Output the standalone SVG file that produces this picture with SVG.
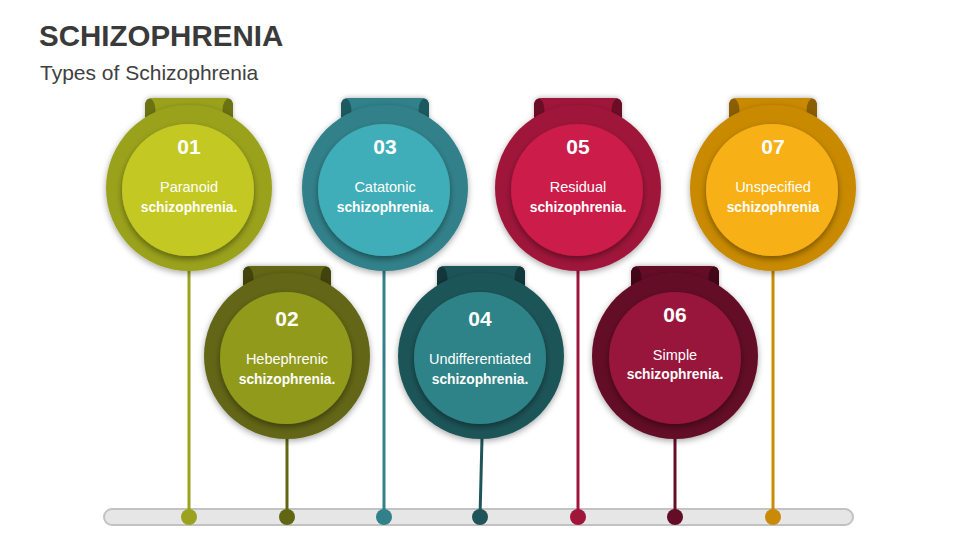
<svg xmlns="http://www.w3.org/2000/svg" width="960" height="540" viewBox="0 0 960 540">
  <defs>
    <filter id="sh" x="-20%" y="-20%" width="140%" height="140%">
      <feDropShadow dx="0" dy="2" stdDeviation="3" flood-color="#000" flood-opacity="0.35"/>
    </filter>
    <filter id="shIn" x="-20%" y="-20%" width="140%" height="140%">
      <feDropShadow dx="0" dy="3" stdDeviation="3" flood-color="#000" flood-opacity="0.4"/>
    </filter>
    <filter id="shTab" x="-20%" y="-40%" width="140%" height="180%">
      <feDropShadow dx="0" dy="-1" stdDeviation="2" flood-color="#000" flood-opacity="0.25"/>
    </filter>
  </defs>
  <style>
    .title { font-family: "Liberation Sans", Arial, sans-serif; font-weight: bold; font-size: 29.5px; fill: #3a3a3a; }
    .sub { font-family: "Liberation Sans", Arial, sans-serif; font-size: 21px; fill: #404040; }
    .num { font-family: "Liberation Sans", Arial, sans-serif; font-weight: bold; font-size: 21px; fill: #ffffff; text-anchor: middle; }
    .t1 { font-family: "Liberation Sans", Arial, sans-serif; font-size: 14.5px; fill: #ffffff; text-anchor: middle; }
    .t2 { font-family: "Liberation Sans", Arial, sans-serif; font-weight: bold; font-size: 13.8px; fill: #ffffff; text-anchor: middle; }
    .conn line { stroke-width: 3; }
    .c1 { fill: #9aa21e; } .s1 { stroke: #9aa21e; } .i1 { fill: #c3c923; } .k1 { fill: #6b7212; }
    .c2 { fill: #626614; } .s2 { stroke: #626614; } .i2 { fill: #929a1b; } .k2 { fill: #41440b; }
    .c3 { fill: #30818a; } .s3 { stroke: #30818a; } .i3 { fill: #40aeb8; } .k3 { fill: #1d5a60; }
    .c4 { fill: #1f5559; } .s4 { stroke: #1f5559; } .i4 { fill: #2f8388; } .k4 { fill: #123639; }
    .c5 { fill: #a0153a; } .s5 { stroke: #a0153a; } .i5 { fill: #cc1a4a; } .k5 { fill: #6c0d27; }
    .c6 { fill: #640d27; } .s6 { stroke: #640d27; } .i6 { fill: #98153b; } .k6 { fill: #420718; }
    .c7 { fill: #c98a05; } .s7 { stroke: #c98a05; } .i7 { fill: #f7b019; } .k7 { fill: #8a5e03; }
  </style>

  <text class="title" x="39" y="46">SCHIZOPHRENIA</text>
  <text class="sub" x="40" y="80">Types of Schizophrenia</text>

  <!-- timeline bar -->
  <rect x="104" y="509" width="749" height="16" rx="8" fill="#e6e6e6" stroke="#c2c2c2" stroke-width="2"/>

  <!-- connectors -->
  <g id="connectors" class="conn">
    <line class="s1" x1="189" y1="270" x2="189" y2="517"/>
    <line class="s2" x1="287" y1="438" x2="287" y2="517"/>
    <line class="s3" x1="384" y1="270" x2="384" y2="517"/>
    <line class="s4" x1="482" y1="438" x2="480" y2="517"/>
    <line class="s5" x1="578" y1="270" x2="578" y2="517"/>
    <line class="s6" x1="675" y1="438" x2="675" y2="517"/>
    <line class="s7" x1="773" y1="270" x2="773" y2="517"/>
    <circle class="c1" cx="189" cy="517" r="8"/>
    <circle class="c2" cx="287" cy="517" r="8"/>
    <circle class="c3" cx="384" cy="517" r="8"/>
    <circle class="c4" cx="480" cy="517" r="8"/>
    <circle class="c5" cx="578" cy="517" r="8"/>
    <circle class="c6" cx="675" cy="517" r="8"/>
    <circle class="c7" cx="773" cy="517" r="8"/>
  </g>

  <!-- node 01 -->
  <g id="node-01" transform="translate(189,188)">
    <path class="c1" filter="url(#shTab)" d="M-44,-60 L-44,-82 Q-44,-90 -36,-90 L36,-90 Q44,-90 44,-82 L44,-60 Z"/>
    <path class="k1" d="M-44,-71 L-44,-82 Q-44,-90 -38,-89.5 Q-32,-84 -34,-71 Z"/>
    <path class="k1" d="M44,-71 L44,-82 Q44,-90 38,-89.5 Q32,-84 34,-71 Z"/>
    <circle class="c1" r="83" filter="url(#sh)"/>
    <circle class="i1" cx="-1" cy="2" r="66" filter="url(#shIn)"/>
    <text class="num" x="0" y="-34">01</text>
    <text class="t1" x="0" y="4">Paranoid</text>
    <text class="t2" x="0" y="24">schizophrenia.</text>
  </g>

  <!-- node 03 -->
  <g id="node-03" transform="translate(385,188)">
    <path class="c3" filter="url(#shTab)" d="M-44,-60 L-44,-82 Q-44,-90 -36,-90 L36,-90 Q44,-90 44,-82 L44,-60 Z"/>
    <path class="k3" d="M-44,-71 L-44,-82 Q-44,-90 -38,-89.5 Q-32,-84 -34,-71 Z"/>
    <path class="k3" d="M44,-71 L44,-82 Q44,-90 38,-89.5 Q32,-84 34,-71 Z"/>
    <circle class="c3" r="83" filter="url(#sh)"/>
    <circle class="i3" cx="-1" cy="2" r="66" filter="url(#shIn)"/>
    <text class="num" x="0" y="-34">03</text>
    <text class="t1" x="0" y="4">Catatonic</text>
    <text class="t2" x="0" y="24">schizophrenia.</text>
  </g>

  <!-- node 05 -->
  <g id="node-05" transform="translate(578,188)">
    <path class="c5" filter="url(#shTab)" d="M-44,-60 L-44,-82 Q-44,-90 -36,-90 L36,-90 Q44,-90 44,-82 L44,-60 Z"/>
    <path class="k5" d="M-44,-71 L-44,-82 Q-44,-90 -38,-89.5 Q-32,-84 -34,-71 Z"/>
    <path class="k5" d="M44,-71 L44,-82 Q44,-90 38,-89.5 Q32,-84 34,-71 Z"/>
    <circle class="c5" r="83" filter="url(#sh)"/>
    <circle class="i5" cx="-1" cy="2" r="66" filter="url(#shIn)"/>
    <text class="num" x="0" y="-34">05</text>
    <text class="t1" x="0" y="4">Residual</text>
    <text class="t2" x="0" y="24">schizophrenia.</text>
  </g>

  <!-- node 07 -->
  <g id="node-07" transform="translate(773,188)">
    <path class="c7" filter="url(#shTab)" d="M-44,-60 L-44,-82 Q-44,-90 -36,-90 L36,-90 Q44,-90 44,-82 L44,-60 Z"/>
    <path class="k7" d="M-44,-71 L-44,-82 Q-44,-90 -38,-89.5 Q-32,-84 -34,-71 Z"/>
    <path class="k7" d="M44,-71 L44,-82 Q44,-90 38,-89.5 Q32,-84 34,-71 Z"/>
    <circle class="c7" r="83" filter="url(#sh)"/>
    <circle class="i7" cx="-1" cy="2" r="66" filter="url(#shIn)"/>
    <text class="num" x="0" y="-34">07</text>
    <text class="t1" x="0" y="4">Unspecified</text>
    <text class="t2" x="0" y="24">schizophrenia</text>
  </g>

  <!-- node 02 -->
  <g id="node-02" transform="translate(287,356)">
    <path class="c2" filter="url(#shTab)" d="M-44,-60 L-44,-82 Q-44,-90 -36,-90 L36,-90 Q44,-90 44,-82 L44,-60 Z"/>
    <path class="k2" d="M-44,-71 L-44,-82 Q-44,-90 -38,-89.5 Q-32,-84 -34,-71 Z"/>
    <path class="k2" d="M44,-71 L44,-82 Q44,-90 38,-89.5 Q32,-84 34,-71 Z"/>
    <circle class="c2" r="83" filter="url(#sh)"/>
    <circle class="i2" cx="-1" cy="2" r="66" filter="url(#shIn)"/>
    <text class="num" x="0" y="-30">02</text>
    <text class="t1" x="0" y="8">Hebephrenic</text>
    <text class="t2" x="0" y="28">schizophrenia.</text>
  </g>

  <!-- node 04 -->
  <g id="node-04" transform="translate(481,356)">
    <path class="c4" filter="url(#shTab)" d="M-44,-60 L-44,-82 Q-44,-90 -36,-90 L36,-90 Q44,-90 44,-82 L44,-60 Z"/>
    <path class="k4" d="M-44,-71 L-44,-82 Q-44,-90 -38,-89.5 Q-32,-84 -34,-71 Z"/>
    <path class="k4" d="M44,-71 L44,-82 Q44,-90 38,-89.5 Q32,-84 34,-71 Z"/>
    <circle class="c4" r="83" filter="url(#sh)"/>
    <circle class="i4" cx="-1" cy="2" r="66" filter="url(#shIn)"/>
    <text class="num" x="-1" y="-30">04</text>
    <text class="t1" x="-1" y="8">Undifferentiated</text>
    <text class="t2" x="-1" y="28">schizophrenia.</text>
  </g>

  <!-- node 06 -->
  <g id="node-06" transform="translate(675,356)">
    <path class="c6" filter="url(#shTab)" d="M-44,-60 L-44,-82 Q-44,-90 -36,-90 L36,-90 Q44,-90 44,-82 L44,-60 Z"/>
    <path class="k6" d="M-44,-71 L-44,-82 Q-44,-90 -38,-89.5 Q-32,-84 -34,-71 Z"/>
    <path class="k6" d="M44,-71 L44,-82 Q44,-90 38,-89.5 Q32,-84 34,-71 Z"/>
    <circle class="c6" r="83" filter="url(#sh)"/>
    <circle class="i6" cx="0" cy="2" r="66" filter="url(#shIn)"/>
    <text class="num" x="0" y="-34">06</text>
    <text class="t1" x="0" y="4">Simple</text>
    <text class="t2" x="0" y="23">schizophrenia.</text>
  </g>
</svg>
